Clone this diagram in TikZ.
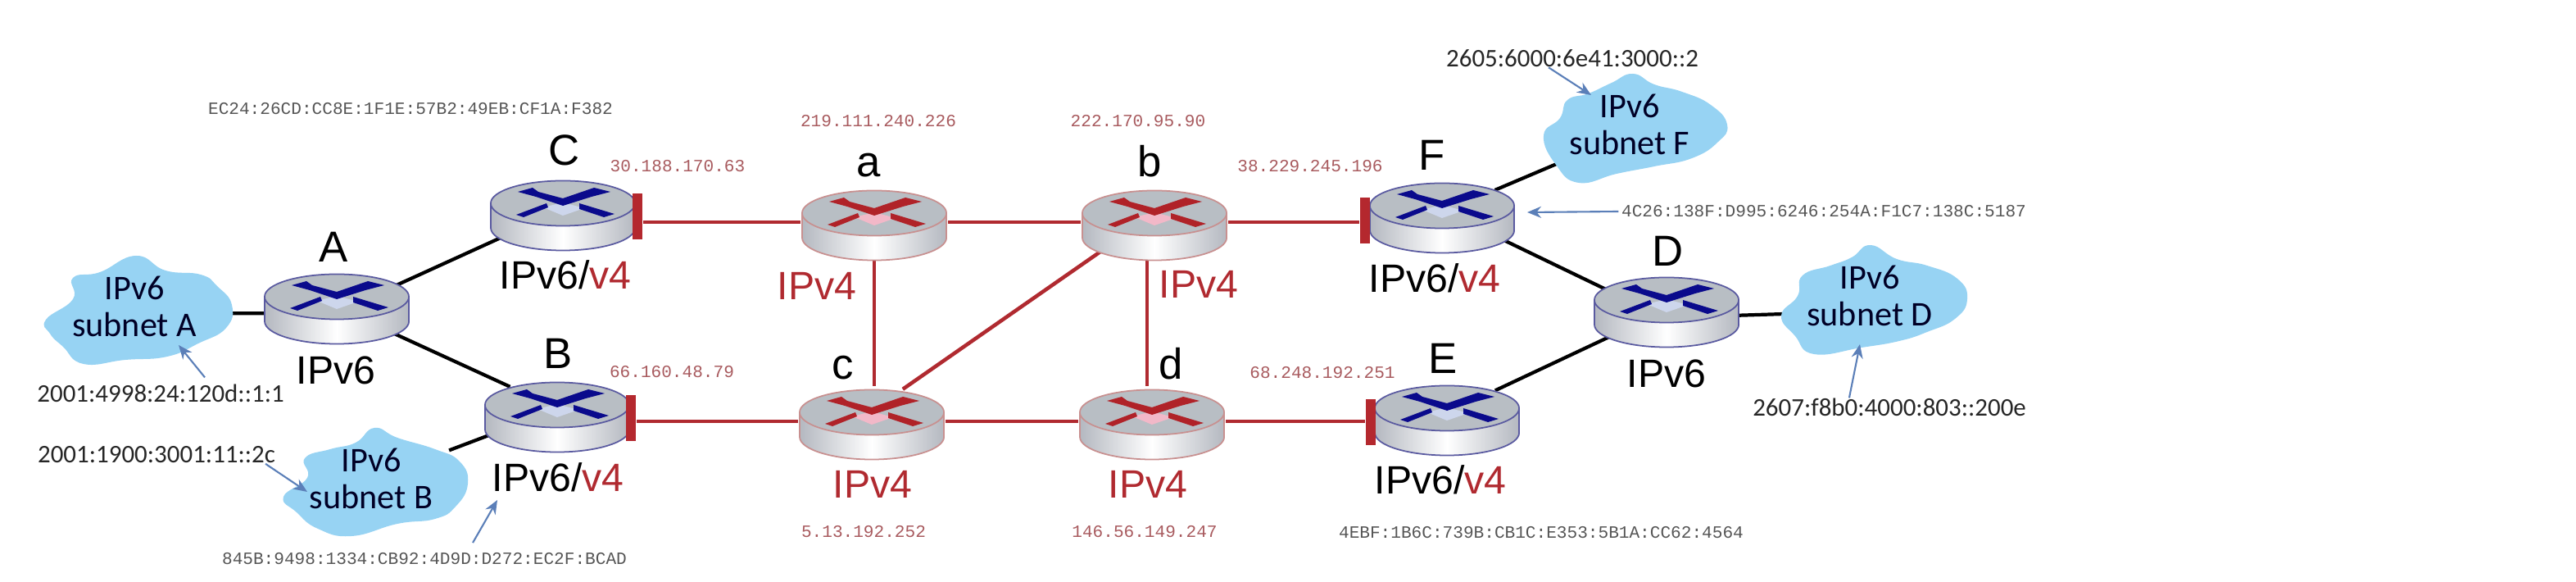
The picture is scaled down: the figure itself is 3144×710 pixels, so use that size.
\documentclass[tikz,border=0pt]{standalone}
\usepackage{fontspec}
\setmonofont{Liberation Mono}
\newfontfamily\arialfont{Liberation Sans}
\newfontfamily\calibrifont{Carlito}
\usepackage{xcolor}
\usetikzlibrary{arrows.meta, backgrounds, positioning, shapes.geometric}

\definecolor{sixline}{HTML}{5A5AA0}
\definecolor{sixarm}{HTML}{0A0A8C}
\definecolor{sixmid}{HTML}{CDD6EC}
\definecolor{fourline}{HTML}{C89090}
\definecolor{fourarm}{HTML}{B02228}
\definecolor{fourmid}{HTML}{F2B8C8}
\definecolor{topgray}{HTML}{B8BEC4}
\definecolor{sidegray}{HTML}{B4B8C0}
\definecolor{linkred}{HTML}{B02A30}
\definecolor{labelred}{HTML}{A85A5E}
\definecolor{labelgray}{HTML}{555555}
\definecolor{cloudblue}{HTML}{97D3F3}
\definecolor{arrowblue}{HTML}{5B7FB8}

\tikzset{
  routernode/.style={ellipse, minimum width=1.78cm, minimum height=0.85cm, inner sep=0pt},
  cloudnode/.style={ellipse, minimum width=2.2cm, minimum height=1.2cm, inner sep=0pt,
    align=center, text=black!85!blue, font=\calibrifont\fontsize{12}{12.8}\selectfont},
  cloudfill/.style={fill=cloudblue, draw=none},
  name6/.style={anchor=base, font=\arialfont\fontsize{15}{15}\selectfont},
  kind/.style={anchor=base, font=\arialfont\fontsize{13.7}{14}\selectfont},
  kind4/.style={kind, text=linkred},
  hexaddr/.style={inner sep=0pt, text=labelgray, font=\ttfamily\fontsize{6}{7}\selectfont},
  ipaddr/.style={inner sep=0pt, text=labelred, font=\ttfamily\fontsize{6}{7}\selectfont},
  hostaddr/.style={inner sep=0pt, text=black!85, font=\calibrifont\fontsize{8.8}{10}\selectfont},
  port/.style={fill=linkred!95!red, minimum width=0.12cm, minimum height=0.55cm, inner sep=0pt},
  link6/.style={draw=black, line width=1.2pt},
  link4/.style={draw=linkred, line width=1.3pt},
  pointer/.style={draw=arrowblue, line width=0.6pt, -{Stealth[length=0.17cm, width=0.14cm]}}
}

% name, x, y, colour prefix (six or four)
\newcommand{\router}[4]{
  \node [routernode] (#1) at (#2,#3) {};
  \begin{scope}[shift={(#2,#3)}]
    \path [draw=#4line, line width=0.5pt, left color=sidegray, right color=sidegray, middle color=white]
      (-88,-11) -- (-88,19) arc [start angle=180, end angle=360, x radius=0.88cm, y radius=0.275cm]
      -- (88,-11) -- cycle;
    \path [draw=#4line, line width=0.5pt, fill=topgray] (0,-11) ellipse [x radius=0.88cm, y radius=0.275cm];
    \fill [#4mid] (0,-12) -- (-24,-6) -- (0,4) -- (26,-5) -- cycle;
    \fill [#4arm] (-55,-25) -- (-37,-30) -- (-30,-25) -- (0,-17) -- (38,-30) -- (58,-25)
      -- (35,-19) -- (0,-8) -- (-33,-19) -- cycle;
    \fill [#4arm] (-57,3) -- (-20,-11) -- (-18,-6) -- (-48,6) -- cycle;
    \fill [#4arm] (20,-11) -- (63,2) -- (50,6) -- (20,-4) -- cycle;
  \end{scope}
}

\begin{document}
\begin{tikzpicture}[x=0.01cm, y=-0.01cm]
  \path [use as bounding box] (0,0) rectangle (3144,710);

  % Routers on both sides of the tunnel.
  \foreach \rname/\rx/\ry in {A/411/373, C/687/259, B/680/505, F/1760/262, E/1766/509, D/2034/377} {
    \router{\rname}{\rx}{\ry}{six}
  }

  % Routers in the middle.
  \foreach \rname/\rx/\ry in {a/1067/271, b/1409/271, c/1064/514, d/1406/514} {
    \router{\rname}{\rx}{\ry}{four}
  }

  % Tunnel ends.
  \node [port] (portC) at (778,264) {};
  \node [port] (portB) at (770,510) {};
  \node [port] (portF) at (1666,269) {};
  \node [port] (portE) at (1673,515) {};

  % Subnet A.
  \fill [cloudfill] plot [smooth cycle, tension=0.8] coordinates {(56,390) (89,365) (89,339) (122,332) (166,312)
    (202,330) (245,335) (265,349) (283,372) (276,400) (242,419) (204,435) (153,439) (102,444) (77,423) (61,407)};
  \node [cloudnode, minimum width=2.38cm] (subA) at (164,374) {IPv6\\subnet A};

  % Subnet B.
  \fill [cloudfill] plot [smooth cycle, tension=0.8] coordinates {(346,606) (375,583) (372,559) (403,548) (434,540)
    (457,522) (485,534) (531,548) (561,563) (571,590) (556,618) (531,633) (485,639) (429,654) (388,645) (362,625)};
  \node [cloudnode, minimum width=2.3cm] (subB) at (453,584) {IPv6\\subnet B};

  % Subnet F.
  \fill [cloudfill] plot [smooth cycle, tension=0.8] coordinates {(1884,165) (1904,144) (1913,122) (1939,114) (1967,101)
    (1993,90) (2019,103) (2053,112) (2088,128) (2108,152) (2097,173) (2065,193) (2019,203) (1973,212) (1927,223) (1899,201)};
  \node [cloudnode] (subF) at (1989,152) {IPv6\\subnet F};

  % Subnet D.
  \fill [cloudfill] plot [smooth cycle, tension=0.8] coordinates {(2174,385) (2194,361) (2200,336) (2234,324) (2260,314)
    (2283,299) (2315,316) (2352,324) (2389,340) (2401,365) (2386,389) (2352,405) (2318,416) (2272,424) (2214,432) (2191,410)};
  \node [cloudnode] (subD) at (2282,361) {IPv6\\subnet D};

  % Router letters.
  \foreach \letter/\lx/\ly in {A/407/320, C/689/202, B/681/450, a/1060/216, b/1403/216,
    c/1029/463, d/1429/463, F/1748/208, E/1761/456, D/2036/325} {
    \node [name6] (letter\letter) at (\lx,\ly) {\letter};
  }

  % Protocol labels.
  \node [kind] (kindA) at (410,469) {IPv6};
  \node [kind] (kindD) at (2034,473) {IPv6};
  \foreach \kname/\lx/\ly in {C/690/353, B/681/600, F/1751/357, E/1758/603} {
    \node [kind] (kind\kname) at (\lx,\ly) {IPv6/\textcolor{linkred}{v4}};
  }
  \foreach \kname/\lx/\ly in {a/997/366, b/1463/364, c/1065/608, d/1401/608} {
    \node [kind4] (kind\kname) at (\lx,\ly) {IPv4};
  }

  % Addresses of the routers.
  \node [hexaddr] (hexC) at (501,133) {EC24:26CD:CC8E:1F1E:57B2:49EB:CF1A:F382};
  \node [hexaddr] (hexB) at (518,682) {845B:9498:1334:CB92:4D9D:D272:EC2F:BCAD};
  \node [hexaddr] (hexF) at (2226,258) {4C26:138F:D995:6246:254A:F1C7:138C:5187};
  \node [hexaddr] (hexE) at (1881,650) {4EBF:1B6C:739B:CB1C:E353:5B1A:CC62:4564};
  \node [ipaddr] (ipC) at (827,203) {30.188.170.63};
  \node [ipaddr] (ipB) at (820,454) {66.160.48.79};
  \node [ipaddr] (ipa) at (1072,148) {219.111.240.226};
  \node [ipaddr] (ipb) at (1389,148) {222.170.95.90};
  \node [ipaddr] (ipc) at (1054,649) {5.13.192.252};
  \node [ipaddr] (ipd) at (1397,649) {146.56.149.247};
  \node [ipaddr] (ipF) at (1599,203) {38.229.245.196};
  \node [ipaddr] (ipE) at (1614,455) {68.248.192.251};

  % Addresses of the hosts.
  \node [hostaddr] (hostA) at (196,480) {2001:4998:24:120d::1:1};
  \node [hostaddr] (hostB) at (191,555) {2001:1900:3001:11::2c};
  \node [hostaddr] (hostF) at (1919,71) {2605:6000:6e41:3000::2};
  \node [hostaddr] (hostD) at (2306,497) {2607:f8b0:4000:803::200e};

  % Arrow tips.
  \coordinate (tipA) at (218,421);
  \coordinate (tipB) at (375,600);
  \coordinate (tipF) at (1942,116);
  \coordinate (tipD) at (2270,420);
  \coordinate (tipRB) at (607,610);
  \coordinate (tipRF) at (1864,259);

  \draw [pointer] ([xshift=0.54cm, yshift=0.08cm]hostA.north) -- (tipA);
  \draw [pointer] ([xshift=1.33cm]hostB.south) -- (tipB);
  \draw [pointer] ([xshift=-0.29cm]hostF.south) -- (tipF);
  \draw [pointer] ([xshift=-0.49cm]hostD.north) -- (tipD);
  \draw [pointer] ([xshift=0.59cm, yshift=0.12cm]hexB.north) -- (tipRB);
  \draw [pointer] ([xshift=-0.03cm]hexF.west) -- (tipRF);

  % Links stay behind routers and clouds.
  \begin{scope}[on background layer]
    \draw [link6] (subA.-4) -- (A.186);
    \draw [link6] (A.19) -- (C.202);
    \draw [link6] (A.-26) -- (B.150);
    \draw [link6] (subB.20) -- (B.197);
    \draw [link6] (F.25) -- (subF.209);
    \draw [link6] (F.-22) -- (D.162);
    \draw [link6] (E.29) -- (D.206);
    \draw [link6] (D.-5) -- (subD.192);

    \draw [link4] (a.west) -- (a.west -| portC.east);
    \draw [link4] (c.west) -- (c.west -| portB.east);
    \draw [link4] (b.east) -- (b.east -| portF.west);
    \draw [link4] (d.east) -- (d.east -| portE.west);
    \draw [link4] (a) -- (b);
    \draw [link4] (c) -- (d);
    \draw [link4] (a.south) -- (a.south |- c.north);
    \draw [link4] (b.258) -- (b.258 |- d.north);
    \draw [link4] (b.208) -- (c.46);
  \end{scope}
\end{tikzpicture}
\end{document}
